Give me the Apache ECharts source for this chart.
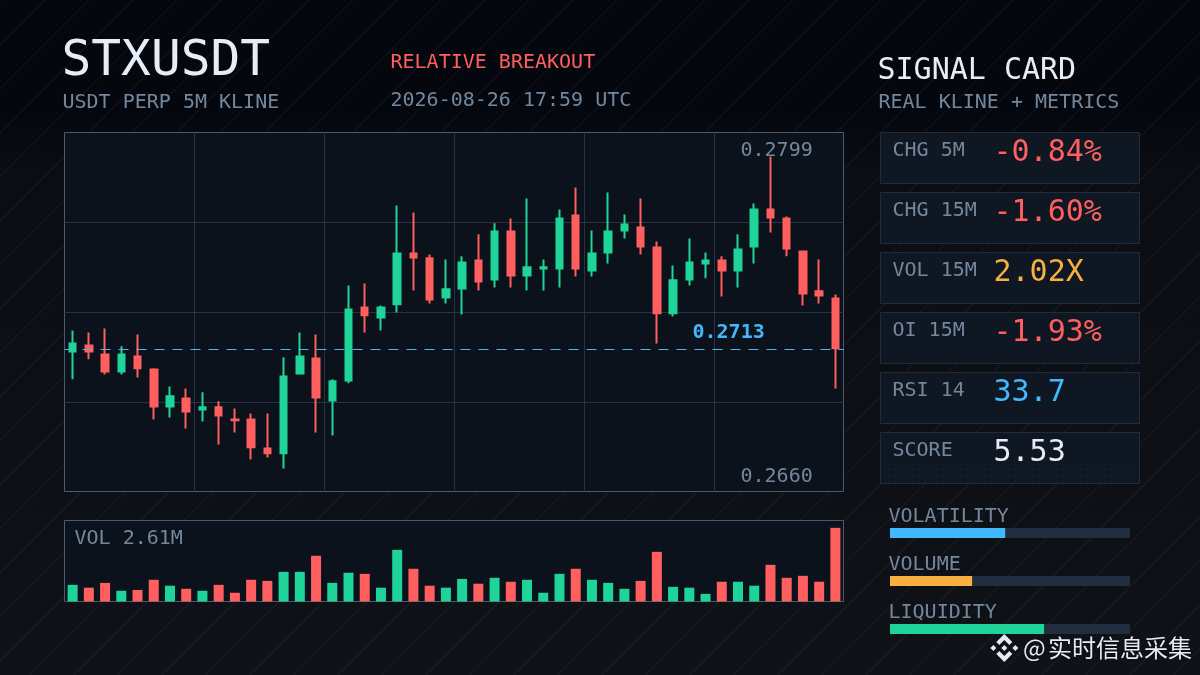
<!DOCTYPE html>
<html><head><meta charset="utf-8">
<style>
html,body{margin:0;padding:0;width:1200px;height:675px;overflow:hidden;background:#0a0d12}
#bg{position:absolute;left:0;top:0;width:1200px;height:675px;
background:
repeating-linear-gradient(135deg,rgba(120,140,175,.13) 0,rgba(120,140,175,.13) .8px,transparent .8px,transparent 31.113px),
linear-gradient(180deg,#04070d 0,#04070d 112px,#0a0d12 170px,#0f1217 675px);}
#c{position:absolute;left:0;top:0;width:1200px;height:675px}
</style></head><body><div id="bg"></div><div id="c"></div>
<script src="https://cdn.jsdelivr.net/npm/echarts@6/dist/echarts.min.js"></script>
<script>
const opens=[.27121,.27148,.27108,.27032,.27099,.27041,.26876,.26912,.26863,.26872,.26818,.26818,.26689,.26667,.27023,.2709,.26903,.26992,.27317,.27273,.27331,.27558,.27536,.27362,.27402,.27527,.27442,.27656,.2746,.27491,.27491,.27727,.27482,.27562,.2766,.27674,.27585,.27291,.27442,.27513,.27527,.27482,.27589,.27754,.27714,.27567,.27389,.27357];
const closes=[.27157,.27121,.27032,.27108,.27046,.26876,.26921,.26854,.26872,.26836,.26814,.26694,.26667,.2701,.27099,.26916,.26988,.27308,.27282,.27317,.27558,.2754,.27353,.27398,.27518,.27433,.27656,.2746,.27496,.27496,.27714,.27491,.27558,.27656,.27687,.27589,.27291,.27438,.27518,.27527,.27482,.27576,.27754,.27718,.2758,.2738,.27371,.27135];
const lows=[.26997,.27086,.27019,.27019,.27005,.26818,.26827,.26778,.26809,.26707,.2676,.2664,.26649,.266,.27019,.2676,.26747,.26979,.27206,.27215,.27295,.27393,.27335,.27335,.27286,.27393,.27406,.27406,.27393,.27393,.27406,.27455,.27455,.27513,.27625,.27553,.27157,.27277,.27415,.27447,.27366,.27406,.27513,.27651,.27545,.27326,.27335,.26956];
const highs=[.27215,.27206,.27224,.27144,.27197,.27046,.26965,.26956,.26939,.26899,.26867,.26845,.26845,.27095,.27206,.27197,.26997,.27415,.27424,.27326,.27772,.27741,.27553,.27531,.27545,.27643,.27692,.27714,.27803,.27531,.27754,.27852,.2766,.2783,.27732,.27803,.27611,.27504,.27625,.27562,.27545,.27643,.27781,.2799,.27723,.27571,.27531,.27375];
const volumes=[.59,.49,.66,.38,.41,.77,.56,.45,.38,.59,.31,.77,.73,1.05,1.05,1.62,.66,1.02,.98,.49,1.83,1.16,.56,.49,.80,.63,.84,.70,.77,.31,.98,1.16,.77,.66,.45,.73,1.76,.52,.49,.27,.70,.70,.56,1.30,.84,.91,.70,2.61];
const categories=opens.map((_,i)=>String(i+1));
const lastPrice=0.2713;
const priceMin=0.26497, priceMax=0.28097;
const meterNames=['VOLATILITY','VOLUME','LIQUIDITY'];
const meterValues=[48,34.2,64.2];
const cardLabels=['CHG 5M','CHG 15M','VOL 15M','OI 15M','RSI 14','SCORE'];
const cardValues=['-0.84%','-1.60%','2.02X','-1.93%','33.7','5.53'];

const UP='#1fd498',DOWN='#ff5f5f',BLUE='#42b9ff',ORANGE='#f8b13f',WHITE='#e6edf7',GREY='#74879d';
const cardColors=[DOWN,DOWN,ORANGE,DOWN,BLUE,WHITE];
const meterColors=[BLUE,ORANGE,UP];
const MONO='"DejaVu Sans Mono",monospace';
const BORDER='#4a5a72',GRID='#273244',PANEL='#0b121b';

function T(x,y,text,size,fill,extra){return {type:'text',x,y:y+2,z:20,silent:true,style:Object.assign({text,fontFamily:MONO,fontSize:size,fill,textVerticalAlign:'middle',textAlign:'left'},extra||{})};}
const g=[
 T(61.5,60,'STXUSDT',49.5,WHITE),
 T(62.5,101,'USDT PERP 5M KLINE',20,GREY),
 T(390.5,61,'RELATIVE BREAKOUT',20,DOWN),
 T(390.5,99,'2026-08-26 17:59 UTC',20,GREY),
 T(877.5,69.5,'SIGNAL CARD',30,WHITE),
 T(878.5,101,'REAL KLINE + METRICS',20,GREY),
 T(740.5,149,'0.2799',20,GREY),
 T(740.5,475,'0.2660',20,GREY),
 T(692.5,331,lastPrice.toFixed(4),20,BLUE,{fontWeight:'bold'}),
 T(74.5,537,'VOL 2.61M',20,GREY)
];
cardLabels.forEach((l,i)=>{
 const y=132+60*i;
 g.push({type:'rect',z:1,silent:true,shape:{x:880.5,y:y+.5,width:259,height:51},style:{fill:'#0f1722',stroke:'#1f2c3e',lineWidth:1}});
 g.push(T(892.5,y+17,l,20,GREY));
 g.push(T(993.5,y+19,cardValues[i],30,cardColors[i]));
});
// faint dot texture in the SCORE card
const dot=document.createElement('canvas');dot.width=6;dot.height=6;
const dc=dot.getContext('2d');dc.fillStyle='rgba(110,130,160,.2)';dc.fillRect(1,1,1,1);
g.push({type:'rect',z:2,silent:true,shape:{x:886,y:465,width:248,height:17},style:{fill:{image:dot,repeat:'repeat'}}});
meterNames.forEach((n,i)=>g.push(T(888.5,515+48*i,n,20,GREY)));
const lg='#e4ebf5',cx=1004.3,cy=648;
[[[0,-14],[8,-6],[5,-3],[0,-8],[-5,-3],[-8,-6]],[[0,14],[8,6],[5,3],[0,8],[-5,3],[-8,6]],
 [[-11,-3],[-8,0],[-11,3],[-14,0]],[[11,-3],[14,0],[11,3],[8,0]],[[0,-3],[3,0],[0,3],[-3,0]]].forEach(p=>{
 g.push({type:'polygon',z:25,silent:true,shape:{points:p.map(q=>[cx+q[0],cy+q[1]])},style:{fill:lg}});
});
const wm=(x,text)=>({type:'text',x,y:648,z:25,silent:true,style:{text,fontFamily:'"Noto Sans CJK SC",sans-serif',fontSize:24,fill:lg,textVerticalAlign:'middle',textAlign:'left',textShadowColor:'rgba(0,0,0,.7)',textShadowBlur:2}});
g.push(wm(1023,'@'),wm(1048,'实时信息采集'));

const noAxis={axisLine:{show:false},axisTick:{show:false},axisLabel:{show:false}};
const sl={show:true,showMinLine:false,showMaxLine:false,lineStyle:{color:GRID,width:1}};
const chart=echarts.init(document.getElementById('c'),null,{renderer:'canvas',width:1200,height:675});
chart.setOption({
 animation:false,backgroundColor:'transparent',
 grid:[
  {left:64.5,top:132.5,width:779,height:359,show:true,backgroundColor:PANEL,borderColor:BORDER,borderWidth:1},
  {left:64.5,top:520.5,width:779,height:81,show:true,backgroundColor:PANEL,borderColor:BORDER,borderWidth:1},
  {left:890,top:509,width:240,height:144}
 ],
 xAxis:[
  Object.assign({type:'category',gridIndex:0,data:categories,splitLine:{show:false}},noAxis),
  Object.assign({type:'value',gridIndex:0,min:0,max:779,interval:130,splitLine:sl},noAxis),
  Object.assign({type:'category',gridIndex:1,data:categories,splitLine:{show:false}},noAxis),
  Object.assign({type:'value',gridIndex:2,min:0,max:100,splitLine:{show:false}},noAxis)
 ],
 yAxis:[
  Object.assign({type:'value',gridIndex:0,min:priceMin,max:priceMax,splitLine:{show:false}},noAxis),
  Object.assign({type:'value',gridIndex:0,min:0,max:359,interval:90,inverse:true,splitLine:sl},noAxis),
  Object.assign({type:'value',gridIndex:1,min:0,max:2.87,splitLine:{show:false}},noAxis),
  Object.assign({type:'category',gridIndex:2,inverse:true,data:meterNames,splitLine:{show:false}},noAxis)
 ],
 series:[
  {type:'candlestick',xAxisIndex:0,yAxisIndex:0,barWidth:7,z:5,
   data:opens.map((o,i)=>[o,closes[i],lows[i],highs[i]]),
   itemStyle:{color:UP,color0:DOWN,borderColor:UP,borderColor0:DOWN,borderWidth:2}},
  {type:'line',xAxisIndex:1,yAxisIndex:0,z:6,clip:false,symbol:'none',silent:true,
   data:[[0,lastPrice],[784,lastPrice]],
   lineStyle:{color:'#5ab6ea',type:[10,8],width:1}},
  {type:'bar',xAxisIndex:2,yAxisIndex:2,barWidth:10,z:5,
   data:volumes.map((v,i)=>({value:v,itemStyle:{color:closes[i]>=opens[i]?UP:DOWN}}))},
  {type:'bar',xAxisIndex:3,yAxisIndex:3,barWidth:10,z:5,showBackground:true,
   backgroundStyle:{color:'#222e40'},
   data:meterValues.map((v,i)=>({value:v,itemStyle:{color:meterColors[i]}}))}
 ],
 graphic:{elements:g}
});
</script></body></html>
